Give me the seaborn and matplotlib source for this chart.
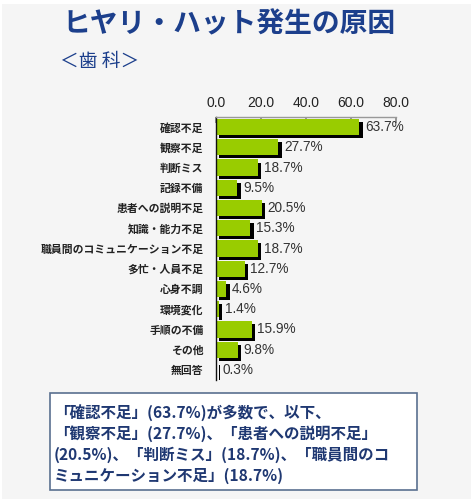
import matplotlib
matplotlib.use('Agg')
import matplotlib.pyplot as plt
import matplotlib.patheffects as pe
from matplotlib.patches import Rectangle
import seaborn as sns
import pandas as pd

categories = ['確認不足', '観察不足', '判断ミス', '記録不備', '患者への説明不足', '知識・能力不足',
              '職員間のコミュニケーション不足', '多忙・人員不足', '心身不調', '環境変化',
              '手順の不備', 'その他', '無回答']
values = [63.7, 27.7, 18.7, 9.5, 20.5, 15.3, 18.7, 12.7, 4.6, 1.4, 15.9, 9.8, 0.3]
x_ticks = [0, 20, 40, 60, 80]
x_tick_labels = ['0.0', '20.0', '40.0', '60.0', '80.0']
title = 'ヒヤリ・ハット発生の原因'
subtitle = '＜歯 科＞'
summary_lines = ['「確認不足」(63.7%)が多数で、以下、',
                 '「観察不足」(27.7%)、「患者への説明不足」',
                 '(20.5%)、「判断ミス」(18.7%)、「職員間のコ',
                 'ミュニケーション不足」(18.7%)']

sns.set_theme(style='white')
plt.rcParams['font.family'] = ['Noto Sans CJK JP', 'DejaVu Sans']

W, H = 474, 503
fig = plt.figure(figsize=(W / 100, H / 100), dpi=100, facecolor='white')
fig.patches.append(Rectangle((2 / W, 4 / H), 469 / W, 495 / H, transform=fig.transFigure,
                             facecolor='#f5f5f5', edgecolor='none', zorder=-10))

ax = fig.add_axes([216 / W, 1 - 380 / H, 180 / W, 263 / H])
ax.set_facecolor('none')
df = pd.DataFrame({'cat': categories, 'val': values})
sns.barplot(data=df, x='val', y='cat', color='#99cc00', width=0.8, ax=ax,
            saturation=1, edgecolor='none')
for p in ax.patches:
    p.set_path_effects([pe.SimplePatchShadow(offset=(2.3, -2.2), shadow_rgbFace='black', alpha=1),
                        pe.Normal()])

ax.set_xlim(0, 80)
ax.xaxis.tick_top()
ax.set_xticks(x_ticks, x_tick_labels)
ax.tick_params(axis='x', direction='in', length=4, color='#888888', labelsize=10, pad=5,
               labelcolor='#222222', top=True, bottom=False)
for t in ax.get_xticklabels():
    t.set_family('Liberation Sans')
ax.tick_params(axis='y', length=0, pad=9, labelsize=7.8, labelcolor='#222222')
for t in ax.get_yticklabels():
    t.set_fontweight('bold')
ax.set_xlabel('')
ax.set_ylabel('')
for s in ['right', 'bottom']:
    ax.spines[s].set_visible(False)
ax.spines['top'].set_color('#999999')
ax.spines['top'].set_linewidth(1)
ax.spines['left'].set_color('#111111')
ax.spines['left'].set_linewidth(1)

ax.bar_label(ax.containers[0], labels=[f'{v:.1f}%' for v in values], padding=4,
             fontsize=9.8, family='Liberation Sans', color='#333333')

fig.text(229 / W, 1 - 24 / H, title, ha='center', va='center', fontsize=20,
         fontweight='bold', color='#1c3f8c')
fig.text(60 / W, 1 - 61 / H, subtitle, ha='left', va='center', fontsize=13.5, color='#1c3f8c')

fig.patches.append(Rectangle((50 / W, 1 - 490 / H), 367 / W, 97 / H, transform=fig.transFigure,
                             facecolor='white', edgecolor='#5a7090', linewidth=1.2, zorder=1))
line_y = [413, 434, 455, 476]
for y, line in zip(line_y, summary_lines):
    fig.text(54 / W, 1 - y / H, line, ha='left', va='center', fontsize=11.2, fontweight='bold',
             color='#1f3872', zorder=2)

fig.savefig('out.png', dpi=100, facecolor='white')
